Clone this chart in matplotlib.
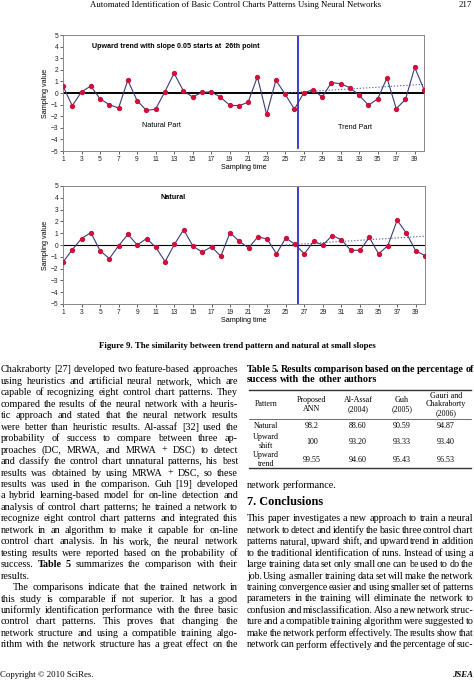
import numpy as np
import matplotlib
matplotlib.use("Agg")
import matplotlib.pyplot as plt
from matplotlib.lines import Line2D

# ---------------- data read from the page ----------------
t = list(range(1, 41))
trend_vals = [0.6, -1.1, 0.1, 0.6, -0.5, -1.0, -1.3, 1.1, -0.65, -1.5,
              -1.4, 0.1, 1.7, 0.2, -0.35, 0.05, 0.1, -0.35, -1.05, -1.1,
              -0.8, 1.4, -1.85, 1.1, -0.1, -1.4, 0.0, 0.3, -0.35, 0.9,
              0.8, 0.45, -0.2, -1.05, -0.5, 1.3, -1.35, -0.55, 2.2, 0.3]
natural_vals = [-1.45, -0.4, 0.55, 1.05, -0.5, -1.15, -0.05, 0.9, 0.0, 0.55,
                -0.2, -1.4, 0.05, 1.3, -0.1, -0.6, -0.15, -0.95, 1.05, 0.3,
                -0.25, 0.7, 0.5, -0.75, 0.6, 0.05, -0.75, 0.3, 0.0, 0.8,
                0.45, -0.45, -0.45, 0.65, -0.75, -0.05, 2.1, 1.0, -0.5, -0.9]
slope_x = [25, 40]
slope_y = [0.0, 0.75]
split_at = 26.35
xticks = list(range(1, 40, 2))
yticks = list(range(-5, 6))

table_cols = ["Pattern", "Proposed\nANN", "Al-Assaf\n(2004)", "Guh\n(2005)",
              "Gauri and\nChakraborty\n(2006)"]
table_rows = ["Natural", "Upward\nshift", "Upward\ntrend"]
ann = ["98.2", "100", "99.55"]
alassaf = ["88.60", "93.20", "94.60"]
guh = ["90.59", "93.33", "95.43"]
gauri = ["94.87", "93.40", "96.53"]

left_lines = [
    "Chakraborty [27] developed two feature-based approaches",
    "using heuristics and artificial neural network, which are",
    "capable of recognizing eight control chart patterns. They",
    "compared the results of the neural network with a heuris-",
    "tic approach and stated that the neural network results",
    "were better than heuristic results. Al-assaf [32] used the",
    "probability of success to compare between three ap-",
    "proaches (DC, MRWA, and MRWA + DSC) to detect",
    "and classify the control chart unnatural patterns, his best",
    "results was obtained by using MRWA + DSC, so these",
    "results was used in the comparison. Guh [19] developed",
    "a hybrid learning-based model for on-line detection and",
    "analysis of control chart patterns; he trained a network to",
    "recognize eight control chart patterns and integrated this",
    "network in an algorithm to make it capable for on-line",
    "control chart analysis. In his work, the neural network",
    "testing results were reported based on the probability of",
    "success. *Table *5 summarizes the comparison with their",
    "results.",
    "The comparisons indicate that the trained network in",
    "this study is comparable if not superior. It has a good",
    "uniformly identification performance with the three basic",
    "control chart patterns. This proves that changing the",
    "network structure and using a compatible training algo-",
    "rithm with the network structure has a great effect on the",
]
right_lines = [
    "This paper investigates a new approach to train a neural",
    "network to detect and identify the basic three control chart",
    "patterns natural, upward shift, and upward trend in addition",
    "to the traditional identification of runs. Instead of using a",
    "large training data set only small one can be used to do the",
    "job. Using a smaller training data set will make the network",
    "training convergence easier and using smaller set of patterns",
    "parameters in the training will eliminate the network to",
    "confusion and misclassification. Also a new network struc-",
    "ture and a compatible training algorithm were suggested to",
    "make the network perform effectively. The results show that",
    "network can perform effectively and the percentage of suc-",
]

W, H = 474, 680
fig = plt.figure(figsize=(W / 100, H / 100), dpi=100)
fig.patch.set_facecolor("white")
renderer = fig.canvas.get_renderer()
SERIF = "Liberation Serif"
SANS = "Liberation Sans"


def fx(px):
    return px / W


def fy(py):
    return 1 - py / H


def put(x, y, s, **kw):
    kw.setdefault("family", SERIF)
    return fig.text(fx(x), fy(y), s, va="center", **kw)


def justify(line, x0, x1, y, size, last=False, weight="normal"):
    words = line.split()
    items = []
    for w in words:
        wt = weight
        if w.startswith("*"):
            wt = "bold"
            w = w[1:]
        items.append(put(x0, y, w, fontsize=size, fontweight=wt))
    widths = [it.get_window_extent(renderer).width for it in items]
    space = size * 100 / 72 * 0.25
    min_gap = space * 0.55
    tight = sum(widths) + min_gap * (len(items) - 1)
    if tight > x1 - x0 and not last:
        # squeeze an over-long line a little instead of letting words touch
        k = (x1 - x0) / tight
        for it in items:
            it.set_fontsize(size * k)
        widths = [it.get_window_extent(renderer).width for it in items]
    if last or len(items) == 1:
        gap = space
    else:
        gap = (x1 - x0 - sum(widths)) / (len(items) - 1)
    x = x0
    for it, wd in zip(items, widths):
        it.set_x(fx(x))
        x += wd + gap


def chart(box, vals, zero_lw, vline_bottom):
    l, tp, r, b = box
    ax = fig.add_axes([fx(l), fy(b), fx(r - l), (b - tp) / H])
    ax.set_xlim(1, 40)
    ax.set_ylim(-5, 5)
    ax.axhline(0, color="black", lw=zero_lw, zorder=1)
    ax.plot([split_at, split_at], [vline_bottom, 5], color="#1a1acc", lw=1.2, zorder=2)
    ax.plot(slope_x, slope_y, color="#5a6ab0", lw=0.8, ls=(0, (1.2, 1.6)), zorder=2)
    ax.plot(t, vals, color="#3b3b78", lw=0.8, zorder=3)
    ax.plot(t, vals, ls="none", marker="o", ms=2.8, color="#d0103a", zorder=4)
    ax.set_xticks(xticks)
    ax.set_yticks(yticks)
    ax.tick_params(labelsize=4.8, length=2, width=0.5, pad=1.5, colors="#222222")
    for lab in ax.get_xticklabels() + ax.get_yticklabels():
        lab.set_family(SANS)
    for sp in ax.spines.values():
        sp.set_color("#888888")
        sp.set_linewidth(0.7)
    ax.set_xlabel("Sampling time", fontsize=5.2, family=SANS, labelpad=0.5)
    ax.set_ylabel("Sampling value", fontsize=5.2, family=SANS, labelpad=1)
    return ax


# ---------------- header ----------------
put(236, 5, "Automated Identification of Basic Control Charts Patterns Using Neural Networks",
    fontsize=6.3, ha="center")
put(472, 5, "217", fontsize=6.3, ha="right")

# ---------------- two charts ----------------
ax1 = chart((63, 35, 424, 151), trend_vals, 1.4, -4.7)
ax1.text(4.1, 4.05, "Upward trend with slope 0.05 starts at  26th point", fontsize=5.1,
         fontweight="bold", family=SANS, va="center")
ax1.text(11.6, -2.8, "Natural Part", fontsize=5.2, family=SANS, ha="center", va="center")
ax1.text(32.5, -3.0, "Trend Part", fontsize=5.2, family=SANS, ha="center", va="center")

ax2 = chart((63, 186, 425, 304), natural_vals, 0.8, -5)
ax2.text(12.9, 4.0, "Natural", fontsize=5.2, fontweight="bold", family=SANS,
         ha="center", va="center")

put(237, 346, "Figure 9. The similarity between trend pattern and natural at small slopes",
    fontsize=6.3, fontweight="bold", ha="center")

# ---------------- left column ----------------
BODY = 7.3
LS = 11.45
y = 370
for i, line in enumerate(left_lines):
    x0 = 12.5 if line.startswith("The comparisons") else 0.5
    last = line == "results."
    justify(line, x0, 238, y + i * LS, BODY, last=last)

# ---------------- right column ----------------
RX1 = 473.5
justify("Table 5. Results comparison based on the percentage of", 247, RX1, 369, BODY,
        weight="bold")
justify("success with the other authors", 247, RX1, 380, BODY, last=True, weight="bold")

for py, lw in ((390, 1.0), (419, 0.5), (468, 1.0)):
    fig.add_artist(Line2D([fx(249), fx(471)], [fy(py), fy(py)], color="#333333", lw=lw))

col_x = [266, 312, 358, 402, 446]
TS = 5.8
for cx, lab in zip(col_x, table_cols):
    put(cx, 404.5, lab, fontsize=TS, ha="center", linespacing=1.15)
row_y = [425.5, 441.5, 459.5]
for ry, lab, a, b, c, d in zip(row_y, table_rows, ann, alassaf, guh, gauri):
    put(col_x[0], ry, lab, fontsize=TS, ha="center", linespacing=1.1)
    for cx, v in zip(col_x[1:], (a, b, c, d)):
        put(cx, ry, v, fontsize=TS, ha="center")

justify("network performance.", 247, RX1, 485, BODY, last=True)
put(247, 502, "7. Conclusions", fontsize=8.8, fontweight="bold")

y = 370 + 24 * LS - 11 * LS
for i, line in enumerate(right_lines):
    justify(line, 247, RX1, y + i * LS, BODY)

# ---------------- footer ----------------
put(0.5, 675, "Copyright \u00a9 2010 SciRes.", fontsize=6.3)
put(473.5, 675, "JSEA", fontsize=6.3, fontweight="bold", style="italic", ha="right")

fig.savefig("out.png", dpi=100, facecolor="white")
